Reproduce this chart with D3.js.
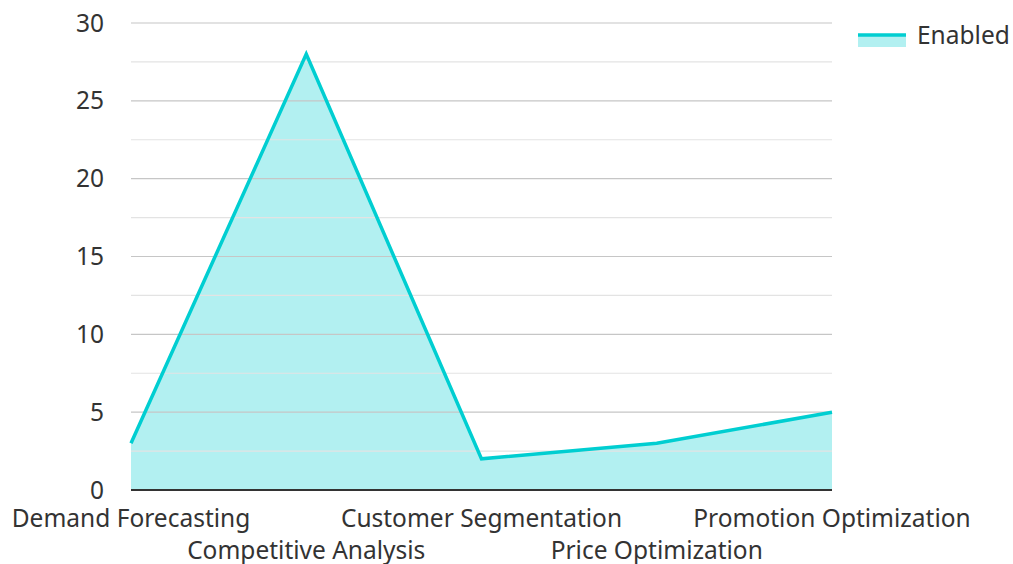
<!DOCTYPE html>
<html>
<head>
<meta charset="utf-8">
<script src="https://cdn.jsdelivr.net/npm/d3@7"></script>
<style>
  body { margin: 0; background: #fff; }
  text { font-family: "Noto Sans", "Open Sans", sans-serif; fill: #333; }
</style>
</head>
<body>
<svg id="chart" width="1013" height="564"></svg>
<script>
// chart data
var categories = ['Demand Forecasting', 'Competitive Analysis', 'Customer Segmentation', 'Price Optimization', 'Promotion Optimization'];
var enabledValues = [3, 28, 2, 3, 5];
var yTicks = [0, 5, 10, 15, 20, 25, 30];
var minorTicks = [2.5, 7.5, 12.5, 17.5, 22.5, 27.5];
var seriesName = 'Enabled';

var color = '#00CED1';
var fontSize = '24.5px';
var margin = {top: 23, right: 181, bottom: 74, left: 131},
    width = 1013 - margin.left - margin.right,
    height = 564 - margin.top - margin.bottom;

var svg = d3.select('#chart'),
    g = svg.append('g').attr('transform', 'translate(' + margin.left + ',' + margin.top + ')');

var x = d3.scalePoint().domain(categories).range([0, width]),
    y = d3.scaleLinear().domain([0, 30]).range([height, 0]);

var data = categories.map(function (c, i) { return {cat: c, val: enabledValues[i]}; });

// area fill first, grid drawn over it
g.append('path')
    .datum(data)
    .attr('fill', color)
    .attr('fill-opacity', 0.3)
    .attr('d', d3.area()
        .x(function (d) { return x(d.cat); })
        .y0(y(0))
        .y1(function (d) { return y(d.val); }));

g.selectAll('.minor')
    .data(minorTicks)
    .enter().append('line')
    .attr('x1', 0).attr('x2', width)
    .attr('y1', function (d) { return y(d); })
    .attr('y2', function (d) { return y(d); })
    .attr('stroke', '#e3e3e3').attr('stroke-width', 1.2);

g.selectAll('.major')
    .data(yTicks.slice(1))
    .enter().append('line')
    .attr('x1', 0).attr('x2', width)
    .attr('y1', function (d) { return y(d); })
    .attr('y2', function (d) { return y(d); })
    .attr('stroke', '#c6c6c6').attr('stroke-width', 1.2);

// y tick labels
g.selectAll('.ylab')
    .data(yTicks)
    .enter().append('text')
    .attr('x', -27)
    .attr('y', function (d) { return y(d); })
    .attr('dy', '0.35em')
    .attr('text-anchor', 'end')
    .style('font-size', fontSize)
    .text(function (d) { return d; });

// line
g.append('path')
    .datum(data)
    .attr('fill', 'none')
    .attr('stroke', color)
    .attr('stroke-width', 3.5)
    .attr('stroke-linejoin', 'miter')
    .attr('d', d3.line()
        .x(function (d) { return x(d.cat); })
        .y(function (d) { return y(d.val); }));

// baseline
g.append('line')
    .attr('x1', 0).attr('x2', width)
    .attr('y1', y(0)).attr('y2', y(0))
    .attr('stroke', '#333').attr('stroke-width', 2);

// x labels, staggered
g.selectAll('.xlab')
    .data(categories)
    .enter().append('text')
    .attr('x', function (d) { return x(d); })
    .attr('y', function (d, i) { return height + (i % 2 ? 69 : 37); })
    .attr('text-anchor', 'middle')
    .style('font-size', fontSize)
    .text(function (d) { return d; });

// legend
var leg = svg.append('g').attr('transform', 'translate(858,35)');
leg.append('rect')
    .attr('x', 0).attr('y', 0).attr('width', 48).attr('height', 12)
    .attr('fill', color).attr('fill-opacity', 0.3);
leg.append('line')
    .attr('x1', 0).attr('x2', 48).attr('y1', 0).attr('y2', 0)
    .attr('stroke', color).attr('stroke-width', 3.5);
leg.append('text')
    .attr('x', 59).attr('y', 0).attr('dy', '0.35em')
    .style('font-size', fontSize)
    .text(seriesName);
</script>
</body>
</html>
